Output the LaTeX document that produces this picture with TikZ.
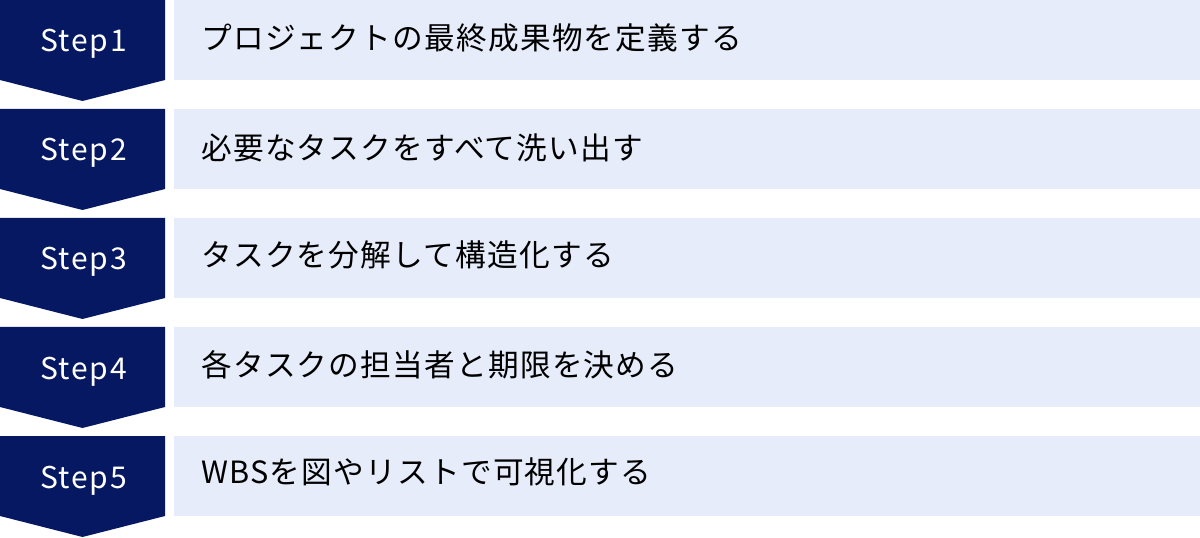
\documentclass[tikz,border=0pt]{standalone}
\usepackage{fontspec}
\setmainfont{Noto Sans CJK JP}
\newfontfamily\jpfont[LetterSpace=4]{Noto Sans CJK JP}
\newfontfamily\labfont[LetterSpace=6]{Noto Sans CJK JP}
\definecolor{navy}{HTML}{051861}
\definecolor{pale}{HTML}{E6ECF9}
\begin{document}
\begin{tikzpicture}[x=0.75pt,y=-0.75pt,
  stepshape/.style={fill=navy,draw=none},
  bar/.style={fill=pale,draw=none},
  steplabel/.style={text=white,font=\labfont\fontsize{22.5}{22.5}\selectfont,anchor=base,inner sep=0pt},
  desc/.style={text=black,font=\jpfont\fontsize{23}{23}\selectfont,anchor=base west,inner sep=0pt}]
\useasboundingbox (0,0) rectangle (1200,538);
\foreach \i/\b/\t in {1/50/プロジェクトの最終成果物を定義する,2/50.5/必要なタスクをすべて洗い出す,3/49/タスクを分解して構造化する,4/50/各タスクの担当者と期限を決める,5/47/WBSを図やリストで可視化する}{
  \pgfmathsetmacro{\y}{(\i-1)*109}
  \fill[stepshape] (0,\y) -- (165,\y) -- (165,\y+80) -- (82.5,\y+101) -- (0,\y+80) -- cycle;
  \fill[bar] (174,\y) rectangle (1200,\y+80);
  \node[steplabel] (s\i) at (83.5,\y+52) {Step\i};
  \node[desc] (d\i) at (201,\y+\b) {\t};
}
\end{tikzpicture}
\end{document}
